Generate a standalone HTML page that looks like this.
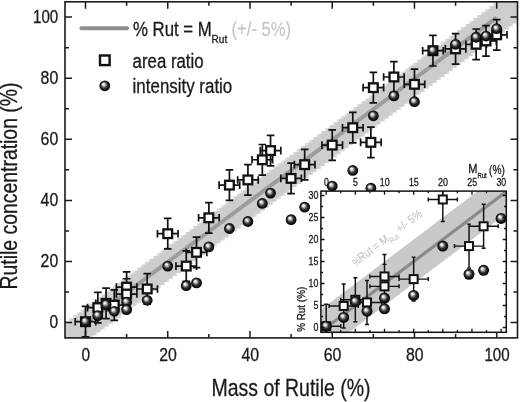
<!DOCTYPE html><html><head><meta charset="utf-8"><title>Rutile plot</title><style>html,body{margin:0;padding:0;background:#fff;}svg{display:block;}text{font-family:"Liberation Sans",Arial,sans-serif;fill:#1a1a1a;stroke:#1a1a1a;stroke-width:0.3px;}</style></head><body>
<svg width="520" height="402" viewBox="0 0 520 402">
<defs><radialGradient id="sph" cx="0.5" cy="0.5" r="0.5" fx="0.36" fy="0.33"><stop offset="0" stop-color="#ffffff"/><stop offset="0.2" stop-color="#e2e2e2"/><stop offset="0.4" stop-color="#8a8a8a"/><stop offset="0.58" stop-color="#383838"/><stop offset="0.8" stop-color="#131313"/><stop offset="1" stop-color="#000"/></radialGradient><clipPath id="mclip"><rect x="65" y="1.8" width="452.5" height="336.1"/></clipPath><clipPath id="iclip"><rect x="320.9" y="191.1" width="185.4" height="141.2"/></clipPath></defs>
<rect width="520" height="402" fill="#fff"/>
<g clip-path="url(#mclip)">
<polygon fill="#dcdcdc" points="64.94,321.31 68.94,321.31 68.94,318.34 72.94,318.34 72.94,315.36 76.94,315.36 76.94,312.39 80.94,312.39 80.94,309.42 84.94,309.42 84.94,306.45 88.94,306.45 88.94,303.48 92.94,303.48 92.94,300.51 96.94,300.51 96.94,297.53 100.94,297.53 100.94,294.56 104.94,294.56 104.94,291.59 108.94,291.59 108.94,288.62 112.94,288.62 112.94,285.65 116.94,285.65 116.94,282.68 120.94,282.68 120.94,279.7 124.94,279.7 124.94,276.73 128.94,276.73 128.94,273.76 132.94,273.76 132.94,270.79 136.94,270.79 136.94,267.82 140.94,267.82 140.94,264.84 144.94,264.84 144.94,261.87 148.94,261.87 148.94,258.9 152.94,258.9 152.94,255.93 156.94,255.93 156.94,252.96 160.94,252.96 160.94,249.99 164.94,249.99 164.94,247.01 168.94,247.01 168.94,244.04 172.94,244.04 172.94,241.07 176.94,241.07 176.94,238.1 180.94,238.1 180.94,235.13 184.94,235.13 184.94,232.15 188.94,232.15 188.94,229.18 192.94,229.18 192.94,226.21 196.94,226.21 196.94,223.24 200.94,223.24 200.94,220.27 204.94,220.27 204.94,217.3 208.94,217.3 208.94,214.32 212.94,214.32 212.94,211.35 216.94,211.35 216.94,208.38 220.94,208.38 220.94,205.41 224.94,205.41 224.94,202.44 228.94,202.44 228.94,199.47 232.94,199.47 232.94,196.49 236.94,196.49 236.94,193.52 240.94,193.52 240.94,190.55 244.94,190.55 244.94,187.58 248.94,187.58 248.94,184.61 252.94,184.61 252.94,181.63 256.94,181.63 256.94,178.66 260.94,178.66 260.94,175.69 264.94,175.69 264.94,172.72 268.94,172.72 268.94,169.75 272.94,169.75 272.94,166.78 276.94,166.78 276.94,163.8 280.94,163.8 280.94,160.83 284.94,160.83 284.94,157.86 288.94,157.86 288.94,154.89 292.94,154.89 292.94,151.92 296.94,151.92 296.94,148.94 300.94,148.94 300.94,145.97 304.94,145.97 304.94,143 308.94,143 308.94,140.03 312.94,140.03 312.94,137.06 316.94,137.06 316.94,134.09 320.94,134.09 320.94,131.11 324.94,131.11 324.94,128.14 328.94,128.14 328.94,125.17 332.94,125.17 332.94,122.2 336.94,122.2 336.94,119.23 340.94,119.23 340.94,116.25 344.94,116.25 344.94,113.28 348.94,113.28 348.94,110.31 352.94,110.31 352.94,107.34 356.94,107.34 356.94,104.37 360.94,104.37 360.94,101.4 364.94,101.4 364.94,98.42 368.94,98.42 368.94,95.45 372.94,95.45 372.94,92.48 376.94,92.48 376.94,89.51 380.94,89.51 380.94,86.54 384.94,86.54 384.94,83.57 388.94,83.57 388.94,80.59 392.94,80.59 392.94,77.62 396.94,77.62 396.94,74.65 400.94,74.65 400.94,71.68 404.94,71.68 404.94,68.71 408.94,68.71 408.94,65.73 412.94,65.73 412.94,62.76 416.94,62.76 416.94,59.79 420.94,59.79 420.94,56.82 424.94,56.82 424.94,53.85 428.94,53.85 428.94,50.88 432.94,50.88 432.94,47.9 436.94,47.9 436.94,44.93 440.94,44.93 440.94,41.96 444.94,41.96 444.94,38.99 448.94,38.99 448.94,36.02 452.94,36.02 452.94,33.04 456.94,33.04 456.94,30.07 460.94,30.07 460.94,27.1 464.94,27.1 464.94,24.13 468.94,24.13 468.94,21.16 472.94,21.16 472.94,18.19 476.94,18.19 476.94,15.21 480.94,15.21 480.94,12.24 484.94,12.24 484.94,9.27 488.94,9.27 488.94,6.3 492.94,6.3 492.94,3.33 496.94,3.33 496.94,0.36 500.94,0.36 500.94,-2.62 504.94,-2.62 504.94,-5.59 508.94,-5.59 508.94,-8.56 512.94,-8.56 512.94,-11.53 516.94,-11.53 516.94,-11.77 517.26,-11.77 517.26,20.55 516.94,20.55 516.94,23.52 512.94,23.52 512.94,26.49 508.94,26.49 508.94,29.46 504.94,29.46 504.94,32.43 500.94,32.43 500.94,35.4 496.94,35.4 496.94,38.38 492.94,38.38 492.94,41.35 488.94,41.35 488.94,44.32 484.94,44.32 484.94,47.29 480.94,47.29 480.94,50.26 476.94,50.26 476.94,53.24 472.94,53.24 472.94,56.21 468.94,56.21 468.94,59.18 464.94,59.18 464.94,62.15 460.94,62.15 460.94,65.12 456.94,65.12 456.94,68.09 452.94,68.09 452.94,71.07 448.94,71.07 448.94,74.04 444.94,74.04 444.94,77.01 440.94,77.01 440.94,79.98 436.94,79.98 436.94,82.95 432.94,82.95 432.94,85.92 428.94,85.92 428.94,88.9 424.94,88.9 424.94,91.87 420.94,91.87 420.94,94.84 416.94,94.84 416.94,97.81 412.94,97.81 412.94,100.78 408.94,100.78 408.94,103.76 404.94,103.76 404.94,106.73 400.94,106.73 400.94,109.7 396.94,109.7 396.94,112.67 392.94,112.67 392.94,115.64 388.94,115.64 388.94,118.61 384.94,118.61 384.94,121.59 380.94,121.59 380.94,124.56 376.94,124.56 376.94,127.53 372.94,127.53 372.94,130.5 368.94,130.5 368.94,133.47 364.94,133.47 364.94,136.45 360.94,136.45 360.94,139.42 356.94,139.42 356.94,142.39 352.94,142.39 352.94,145.36 348.94,145.36 348.94,148.33 344.94,148.33 344.94,151.3 340.94,151.3 340.94,154.28 336.94,154.28 336.94,157.25 332.94,157.25 332.94,160.22 328.94,160.22 328.94,163.19 324.94,163.19 324.94,166.16 320.94,166.16 320.94,169.13 316.94,169.13 316.94,172.11 312.94,172.11 312.94,175.08 308.94,175.08 308.94,178.05 304.94,178.05 304.94,181.02 300.94,181.02 300.94,183.99 296.94,183.99 296.94,186.97 292.94,186.97 292.94,189.94 288.94,189.94 288.94,192.91 284.94,192.91 284.94,195.88 280.94,195.88 280.94,198.85 276.94,198.85 276.94,201.82 272.94,201.82 272.94,204.8 268.94,204.8 268.94,207.77 264.94,207.77 264.94,210.74 260.94,210.74 260.94,213.71 256.94,213.71 256.94,216.68 252.94,216.68 252.94,219.66 248.94,219.66 248.94,222.63 244.94,222.63 244.94,225.6 240.94,225.6 240.94,228.57 236.94,228.57 236.94,231.54 232.94,231.54 232.94,234.51 228.94,234.51 228.94,237.49 224.94,237.49 224.94,240.46 220.94,240.46 220.94,243.43 216.94,243.43 216.94,246.4 212.94,246.4 212.94,249.37 208.94,249.37 208.94,252.35 204.94,252.35 204.94,255.32 200.94,255.32 200.94,258.29 196.94,258.29 196.94,261.26 192.94,261.26 192.94,264.23 188.94,264.23 188.94,267.2 184.94,267.2 184.94,270.18 180.94,270.18 180.94,273.15 176.94,273.15 176.94,276.12 172.94,276.12 172.94,279.09 168.94,279.09 168.94,282.06 164.94,282.06 164.94,285.03 160.94,285.03 160.94,288.01 156.94,288.01 156.94,290.98 152.94,290.98 152.94,293.95 148.94,293.95 148.94,296.92 144.94,296.92 144.94,299.89 140.94,299.89 140.94,302.87 136.94,302.87 136.94,305.84 132.94,305.84 132.94,308.81 128.94,308.81 128.94,311.78 124.94,311.78 124.94,314.75 120.94,314.75 120.94,317.72 116.94,317.72 116.94,320.7 112.94,320.7 112.94,323.67 108.94,323.67 108.94,326.64 104.94,326.64 104.94,329.61 100.94,329.61 100.94,332.58 96.94,332.58 96.94,335.56 92.94,335.56 92.94,338.53 88.94,338.53 88.94,341.5 84.94,341.5 84.94,344.47 80.94,344.47 80.94,347.44 76.94,347.44 76.94,350.41 72.94,350.41 72.94,353.39 68.94,353.39 68.94,356.36 64.94,356.36"/>
<polygon fill="#cdcdcd" points="63.3,324.06 67.3,324.06 67.3,321.09 71.3,321.09 71.3,318.11 75.3,318.11 75.3,315.14 79.3,315.14 79.3,312.17 83.3,312.17 83.3,309.2 87.3,309.2 87.3,306.23 91.3,306.23 91.3,303.26 95.3,303.26 95.3,300.28 99.3,300.28 99.3,297.31 103.3,297.31 103.3,294.34 107.3,294.34 107.3,291.37 111.3,291.37 111.3,288.4 115.3,288.4 115.3,285.42 119.3,285.42 119.3,282.45 123.3,282.45 123.3,279.48 127.3,279.48 127.3,276.51 131.3,276.51 131.3,273.54 135.3,273.54 135.3,270.57 139.3,270.57 139.3,267.59 143.3,267.59 143.3,264.62 147.3,264.62 147.3,261.65 151.3,261.65 151.3,258.68 155.3,258.68 155.3,255.71 159.3,255.71 159.3,252.74 163.3,252.74 163.3,249.76 167.3,249.76 167.3,246.79 171.3,246.79 171.3,243.82 175.3,243.82 175.3,240.85 179.3,240.85 179.3,237.88 183.3,237.88 183.3,234.9 187.3,234.9 187.3,231.93 191.3,231.93 191.3,228.96 195.3,228.96 195.3,225.99 199.3,225.99 199.3,223.02 203.3,223.02 203.3,220.05 207.3,220.05 207.3,217.07 211.3,217.07 211.3,214.1 215.3,214.1 215.3,211.13 219.3,211.13 219.3,208.16 223.3,208.16 223.3,205.19 227.3,205.19 227.3,202.21 231.3,202.21 231.3,199.24 235.3,199.24 235.3,196.27 239.3,196.27 239.3,193.3 243.3,193.3 243.3,190.33 247.3,190.33 247.3,187.36 251.3,187.36 251.3,184.38 255.3,184.38 255.3,181.41 259.3,181.41 259.3,178.44 263.3,178.44 263.3,175.47 267.3,175.47 267.3,172.5 271.3,172.5 271.3,169.52 275.3,169.52 275.3,166.55 279.3,166.55 279.3,163.58 283.3,163.58 283.3,160.61 287.3,160.61 287.3,157.64 291.3,157.64 291.3,154.67 295.3,154.67 295.3,151.69 299.3,151.69 299.3,148.72 303.3,148.72 303.3,145.75 307.3,145.75 307.3,142.78 311.3,142.78 311.3,139.81 315.3,139.81 315.3,136.84 319.3,136.84 319.3,133.86 323.3,133.86 323.3,130.89 327.3,130.89 327.3,127.92 331.3,127.92 331.3,124.95 335.3,124.95 335.3,121.98 339.3,121.98 339.3,119 343.3,119 343.3,116.03 347.3,116.03 347.3,113.06 351.3,113.06 351.3,110.09 355.3,110.09 355.3,107.12 359.3,107.12 359.3,104.15 363.3,104.15 363.3,101.17 367.3,101.17 367.3,98.2 371.3,98.2 371.3,95.23 375.3,95.23 375.3,92.26 379.3,92.26 379.3,89.29 383.3,89.29 383.3,86.31 387.3,86.31 387.3,83.34 391.3,83.34 391.3,80.37 395.3,80.37 395.3,77.4 399.3,77.4 399.3,74.43 403.3,74.43 403.3,71.46 407.3,71.46 407.3,68.48 411.3,68.48 411.3,65.51 415.3,65.51 415.3,62.54 419.3,62.54 419.3,59.57 423.3,59.57 423.3,56.6 427.3,56.6 427.3,53.63 431.3,53.63 431.3,50.65 435.3,50.65 435.3,47.68 439.3,47.68 439.3,44.71 443.3,44.71 443.3,41.74 447.3,41.74 447.3,38.77 451.3,38.77 451.3,35.79 455.3,35.79 455.3,32.82 459.3,32.82 459.3,29.85 463.3,29.85 463.3,26.88 467.3,26.88 467.3,23.91 471.3,23.91 471.3,20.94 475.3,20.94 475.3,17.96 479.3,17.96 479.3,14.99 483.3,14.99 483.3,12.02 487.3,12.02 487.3,9.05 491.3,9.05 491.3,6.08 495.3,6.08 495.3,3.1 499.3,3.1 499.3,0.13 503.3,0.13 503.3,-2.84 507.3,-2.84 507.3,-5.81 511.3,-5.81 511.3,-8.78 515.3,-8.78 515.3,-10.24 517.26,-10.24 517.26,20.24 515.3,20.24 515.3,23.21 511.3,23.21 511.3,26.18 507.3,26.18 507.3,29.16 503.3,29.16 503.3,32.13 499.3,32.13 499.3,35.1 495.3,35.1 495.3,38.07 491.3,38.07 491.3,41.04 487.3,41.04 487.3,44.01 483.3,44.01 483.3,46.99 479.3,46.99 479.3,49.96 475.3,49.96 475.3,52.93 471.3,52.93 471.3,55.9 467.3,55.9 467.3,58.87 463.3,58.87 463.3,61.85 459.3,61.85 459.3,64.82 455.3,64.82 455.3,67.79 451.3,67.79 451.3,70.76 447.3,70.76 447.3,73.73 443.3,73.73 443.3,76.7 439.3,76.7 439.3,79.68 435.3,79.68 435.3,82.65 431.3,82.65 431.3,85.62 427.3,85.62 427.3,88.59 423.3,88.59 423.3,91.56 419.3,91.56 419.3,94.53 415.3,94.53 415.3,97.51 411.3,97.51 411.3,100.48 407.3,100.48 407.3,103.45 403.3,103.45 403.3,106.42 399.3,106.42 399.3,109.39 395.3,109.39 395.3,112.37 391.3,112.37 391.3,115.34 387.3,115.34 387.3,118.31 383.3,118.31 383.3,121.28 379.3,121.28 379.3,124.25 375.3,124.25 375.3,127.22 371.3,127.22 371.3,130.2 367.3,130.2 367.3,133.17 363.3,133.17 363.3,136.14 359.3,136.14 359.3,139.11 355.3,139.11 355.3,142.08 351.3,142.08 351.3,145.06 347.3,145.06 347.3,148.03 343.3,148.03 343.3,151 339.3,151 339.3,153.97 335.3,153.97 335.3,156.94 331.3,156.94 331.3,159.91 327.3,159.91 327.3,162.89 323.3,162.89 323.3,165.86 319.3,165.86 319.3,168.83 315.3,168.83 315.3,171.8 311.3,171.8 311.3,174.77 307.3,174.77 307.3,177.74 303.3,177.74 303.3,180.72 299.3,180.72 299.3,183.69 295.3,183.69 295.3,186.66 291.3,186.66 291.3,189.63 287.3,189.63 287.3,192.6 283.3,192.6 283.3,195.58 279.3,195.58 279.3,198.55 275.3,198.55 275.3,201.52 271.3,201.52 271.3,204.49 267.3,204.49 267.3,207.46 263.3,207.46 263.3,210.43 259.3,210.43 259.3,213.41 255.3,213.41 255.3,216.38 251.3,216.38 251.3,219.35 247.3,219.35 247.3,222.32 243.3,222.32 243.3,225.29 239.3,225.29 239.3,228.27 235.3,228.27 235.3,231.24 231.3,231.24 231.3,234.21 227.3,234.21 227.3,237.18 223.3,237.18 223.3,240.15 219.3,240.15 219.3,243.12 215.3,243.12 215.3,246.1 211.3,246.1 211.3,249.07 207.3,249.07 207.3,252.04 203.3,252.04 203.3,255.01 199.3,255.01 199.3,257.98 195.3,257.98 195.3,260.95 191.3,260.95 191.3,263.93 187.3,263.93 187.3,266.9 183.3,266.9 183.3,269.87 179.3,269.87 179.3,272.84 175.3,272.84 175.3,275.81 171.3,275.81 171.3,278.79 167.3,278.79 167.3,281.76 163.3,281.76 163.3,284.73 159.3,284.73 159.3,287.7 155.3,287.7 155.3,290.67 151.3,290.67 151.3,293.64 147.3,293.64 147.3,296.62 143.3,296.62 143.3,299.59 139.3,299.59 139.3,302.56 135.3,302.56 135.3,305.53 131.3,305.53 131.3,308.5 127.3,308.5 127.3,311.48 123.3,311.48 123.3,314.45 119.3,314.45 119.3,317.42 115.3,317.42 115.3,320.39 111.3,320.39 111.3,323.36 107.3,323.36 107.3,326.33 103.3,326.33 103.3,329.31 99.3,329.31 99.3,332.28 95.3,332.28 95.3,335.25 91.3,335.25 91.3,338.22 87.3,338.22 87.3,341.19 83.3,341.19 83.3,344.17 79.3,344.17 79.3,347.14 75.3,347.14 75.3,350.11 71.3,350.11 71.3,353.08 67.3,353.08 67.3,356.05 63.3,356.05"/>
<line x1="85.5" y1="323.1" x2="496.7" y2="17.6" stroke="#9c9c9c" stroke-width="4"/>
</g>
<path fill="none" stroke="#111" stroke-width="1.7" d="M75.22 321.68H95.78M85.5 306.41V336.96M75.22 317.88V325.48M95.78 317.88V325.48M81.7 306.41H89.3M81.7 336.96H89.3M87.56 307.63H108.12M97.84 292.36V322.91M87.56 303.83V311.43M108.12 303.83V311.43M94.04 292.36H101.64M94.04 322.91H101.64M95.78 303.35H116.34M106.06 288.08V318.63M95.78 299.55V307.15M116.34 299.55V307.15M102.26 288.08H109.86M102.26 318.63H109.86M104 305.19H124.56M114.28 289.91V320.46M104 301.39V308.99M124.56 301.39V308.99M110.48 289.91H118.08M110.48 320.46H118.08M116.34 287.16H136.9M126.62 271.89V302.44M116.34 283.36V290.96M136.9 283.36V290.96M122.82 271.89H130.42M122.82 302.44H130.42M116.34 294.04H136.9M126.62 278.76V309.31M116.34 290.24V297.84M136.9 290.24V297.84M122.82 278.76H130.42M122.82 309.31H130.42M136.9 289H157.46M147.18 273.72V304.27M136.9 285.19V292.8M157.46 285.19V292.8M143.38 273.72H150.98M143.38 304.27H150.98M157.46 233.7H178.02M167.74 218.42V248.97M157.46 229.9V237.5M178.02 229.9V237.5M163.94 218.42H171.54M163.94 248.97H171.54M175.96 266.08H196.52M186.24 250.81V281.36M175.96 262.28V269.88M196.52 262.28V269.88M182.44 250.81H190.04M182.44 281.36H190.04M186.24 252.34H206.8M196.52 237.06V267.61M186.24 248.54V256.14M206.8 248.54V256.14M192.72 237.06H200.32M192.72 267.61H200.32M198.58 217.81H219.14M208.86 202.54V233.09M198.58 214.01V221.61M219.14 214.01V221.61M205.06 202.54H212.66M205.06 233.09H212.66M219.14 185.13H239.7M229.42 169.85V200.4M219.14 181.33V188.93M239.7 181.33V188.93M225.62 169.85H233.22M225.62 200.4H233.22M237.64 179.93H258.2M247.92 164.66V195.21M237.64 176.13V183.73M258.2 176.13V183.73M244.12 164.66H251.72M244.12 195.21H251.72M252.04 159.77H272.6M262.32 144.49V175.04M252.04 155.97V163.57M272.6 155.97V163.57M258.52 144.49H266.12M258.52 175.04H266.12M260.26 150.6H280.82M270.54 135.33V165.88M260.26 146.8V154.4M280.82 146.8V154.4M266.74 135.33H274.34M266.74 165.88H274.34M280.82 178.4H301.38M291.1 163.13V193.68M280.82 174.6V182.2M301.38 174.6V182.2M287.3 163.13H294.9M287.3 193.68H294.9M294.39 164.66H314.95M304.67 149.38V179.93M294.39 160.86V168.46M314.95 160.86V168.46M300.87 149.38H308.47M300.87 179.93H308.47M321.94 145.1H342.5M332.22 129.83V160.38M321.94 141.3V148.9M342.5 141.3V148.9M328.42 129.83H336.02M328.42 160.38H336.02M342.5 127.69H363.06M352.78 112.42V142.97M342.5 123.89V131.49M363.06 123.89V131.49M348.98 112.42H356.58M348.98 142.97H356.58M360.59 142.36H381.15M370.87 127.08V157.63M360.59 138.56V146.16M381.15 138.56V146.16M367.07 127.08H374.67M367.07 157.63H374.67M363.06 87.67H383.62M373.34 72.4V102.95M363.06 83.87V91.47M383.62 83.87V91.47M369.54 72.4H377.14M369.54 102.95H377.14M383.62 76.98H404.18M393.9 61.7V92.25M383.62 73.18V80.78M404.18 73.18V80.78M390.1 61.7H397.7M390.1 92.25H397.7M404.18 84.31H424.74M414.46 69.03V99.59M404.18 80.51V88.11M424.74 80.51V88.11M410.66 69.03H418.26M410.66 99.59H418.26M422.68 50.7H443.24M432.96 35.43V65.98M422.68 46.9V54.5M443.24 46.9V54.5M429.16 35.43H436.76M429.16 65.98H436.76M445.3 48.87H465.86M455.58 33.6V64.15M445.3 45.07V52.67M465.86 45.07V52.67M451.78 33.6H459.38M451.78 64.15H459.38M465.86 44.29H486.42M476.14 29.01V59.56M465.86 40.49V48.09M486.42 40.49V48.09M472.34 29.01H479.94M472.34 59.56H479.94M475.73 40.93H496.29M486.01 25.65V56.2M475.73 37.13V44.73M496.29 37.13V44.73M482.21 25.65H489.81M482.21 56.2H489.81M486.42 34.82H506.98M496.7 19.54V50.09M486.42 31.02V38.62M506.98 31.02V38.62M492.9 19.54H500.5M492.9 50.09H500.5"/>
<g fill="#fff" stroke="#111" stroke-width="2.3"><rect x="81.15" y="317.33" width="8.7" height="8.7"/><rect x="93.49" y="303.28" width="8.7" height="8.7"/><rect x="101.71" y="299" width="8.7" height="8.7"/><rect x="109.93" y="300.84" width="8.7" height="8.7"/><rect x="122.27" y="282.81" width="8.7" height="8.7"/><rect x="122.27" y="289.69" width="8.7" height="8.7"/><rect x="142.83" y="284.64" width="8.7" height="8.7"/><rect x="163.39" y="229.35" width="8.7" height="8.7"/><rect x="181.89" y="261.73" width="8.7" height="8.7"/><rect x="192.17" y="247.99" width="8.7" height="8.7"/><rect x="204.51" y="213.46" width="8.7" height="8.7"/><rect x="225.07" y="180.78" width="8.7" height="8.7"/><rect x="243.57" y="175.58" width="8.7" height="8.7"/><rect x="257.97" y="155.42" width="8.7" height="8.7"/><rect x="266.19" y="146.25" width="8.7" height="8.7"/><rect x="286.75" y="174.05" width="8.7" height="8.7"/><rect x="300.32" y="160.31" width="8.7" height="8.7"/><rect x="327.87" y="140.75" width="8.7" height="8.7"/><rect x="348.43" y="123.34" width="8.7" height="8.7"/><rect x="366.52" y="138.01" width="8.7" height="8.7"/><rect x="368.99" y="83.32" width="8.7" height="8.7"/><rect x="389.55" y="72.63" width="8.7" height="8.7"/><rect x="410.11" y="79.96" width="8.7" height="8.7"/><rect x="428.61" y="46.35" width="8.7" height="8.7"/><rect x="451.23" y="44.52" width="8.7" height="8.7"/><rect x="471.79" y="39.94" width="8.7" height="8.7"/><rect x="481.66" y="36.58" width="8.7" height="8.7"/><rect x="492.35" y="30.47" width="8.7" height="8.7"/></g>
<g fill="url(#sph)"><circle cx="85.5" cy="321.68" r="5.4"/><circle cx="97.84" cy="315.57" r="5.4"/><circle cx="106.06" cy="304.58" r="5.4"/><circle cx="114.28" cy="311.3" r="5.4"/><circle cx="126.62" cy="302.13" r="5.4"/><circle cx="126.62" cy="309.62" r="5.4"/><circle cx="147.18" cy="300.3" r="5.4"/><circle cx="167.74" cy="266.08" r="5.4"/><circle cx="186.24" cy="285.63" r="5.4"/><circle cx="196.52" cy="282.88" r="5.4"/><circle cx="208.86" cy="246.84" r="5.4"/><circle cx="229.42" cy="228.51" r="5.4"/><circle cx="247.92" cy="221.48" r="5.4"/><circle cx="262.32" cy="203.46" r="5.4"/><circle cx="270.54" cy="193.07" r="5.4"/><circle cx="291.1" cy="219.65" r="5.4"/><circle cx="304.67" cy="207.12" r="5.4"/><circle cx="332.22" cy="186.04" r="5.4"/><circle cx="352.78" cy="170.46" r="5.4"/><circle cx="370.87" cy="188.18" r="5.4"/><circle cx="373.34" cy="115.78" r="5.4"/><circle cx="393.9" cy="95.92" r="5.4"/><circle cx="414.46" cy="101.72" r="5.4"/><circle cx="432.96" cy="50.7" r="5.4"/><circle cx="455.58" cy="44.29" r="5.4"/><circle cx="476.14" cy="37.26" r="5.4"/><circle cx="486.01" cy="36.04" r="5.4"/><circle cx="496.7" cy="28.71" r="5.4"/></g>
<path fill="none" stroke="#1a1a1a" stroke-width="1.5" d="M85.5 337.9V330.9M85.5 1.8V8.8M65 322.6H72M517.5 322.6H510.5M126.62 337.9V333.9M126.62 1.8V5.8M65 292.05H69M517.5 292.05H513.5M167.74 337.9V330.9M167.74 1.8V8.8M65 261.5H72M517.5 261.5H510.5M208.86 337.9V333.9M208.86 1.8V5.8M65 230.95H69M517.5 230.95H513.5M249.98 337.9V330.9M249.98 1.8V8.8M65 200.4H72M517.5 200.4H510.5M291.1 337.9V333.9M291.1 1.8V5.8M65 169.85H69M517.5 169.85H513.5M332.22 337.9V330.9M332.22 1.8V8.8M65 139.3H72M517.5 139.3H510.5M373.34 337.9V333.9M373.34 1.8V5.8M65 108.75H69M517.5 108.75H513.5M414.46 337.9V330.9M414.46 1.8V8.8M65 78.2H72M517.5 78.2H510.5M455.58 337.9V333.9M455.58 1.8V5.8M65 47.65H69M517.5 47.65H513.5M496.7 337.9V330.9M496.7 1.8V8.8M65 17.1H72M517.5 17.1H510.5"/>
<rect x="65" y="1.8" width="452.5" height="336.1" fill="none" stroke="#1a1a1a" stroke-width="1.6"/>
<text x="85.8" y="360.5" font-size="18.8" text-anchor="middle" textLength="8.6" lengthAdjust="spacingAndGlyphs">0</text>
<text x="58.2" y="328.1" font-size="18.8" text-anchor="end" textLength="8.6" lengthAdjust="spacingAndGlyphs">0</text>
<text x="168.04" y="360.5" font-size="18.8" text-anchor="middle" textLength="17.6" lengthAdjust="spacingAndGlyphs">20</text>
<text x="58.2" y="267" font-size="18.8" text-anchor="end" textLength="17.6" lengthAdjust="spacingAndGlyphs">20</text>
<text x="250.28" y="360.5" font-size="18.8" text-anchor="middle" textLength="17.6" lengthAdjust="spacingAndGlyphs">40</text>
<text x="58.2" y="205.9" font-size="18.8" text-anchor="end" textLength="17.6" lengthAdjust="spacingAndGlyphs">40</text>
<text x="332.52" y="360.5" font-size="18.8" text-anchor="middle" textLength="17.6" lengthAdjust="spacingAndGlyphs">60</text>
<text x="58.2" y="144.8" font-size="18.8" text-anchor="end" textLength="17.6" lengthAdjust="spacingAndGlyphs">60</text>
<text x="414.76" y="360.5" font-size="18.8" text-anchor="middle" textLength="17.6" lengthAdjust="spacingAndGlyphs">80</text>
<text x="58.2" y="83.7" font-size="18.8" text-anchor="end" textLength="17.6" lengthAdjust="spacingAndGlyphs">80</text>
<text x="497" y="360.5" font-size="18.8" text-anchor="middle" textLength="25.2" lengthAdjust="spacingAndGlyphs">100</text>
<text x="58.2" y="22.6" font-size="18.8" text-anchor="end" textLength="25.2" lengthAdjust="spacingAndGlyphs">100</text>
<text x="211.5" y="396.3" font-size="23.8" textLength="159" lengthAdjust="spacingAndGlyphs">Mass of Rutile (%)</text>
<text transform="translate(17.1,289.5) rotate(-90)" font-size="23.8" textLength="207" lengthAdjust="spacingAndGlyphs">Rutile concentration (%)</text>
<line x1="81.5" y1="28.2" x2="127" y2="28.2" stroke="#8e8e8e" stroke-width="4" stroke-linecap="round"/>
<text x="133" y="35.6" font-size="19.3" textLength="78.8" lengthAdjust="spacingAndGlyphs">% Rut = M</text><text x="211.6" y="42.9" font-size="10.2" textLength="15.6" lengthAdjust="spacingAndGlyphs">Rut</text><text x="231.6" y="35.6" font-size="19.3" style="fill:#c4c4c4;stroke:#c4c4c4;stroke-width:0.1px" textLength="59.5" lengthAdjust="spacingAndGlyphs">(+/- 5%)</text>
<rect x="100" y="55.5" width="9.6" height="9.6" fill="#fff" stroke="#111" stroke-width="2.4"/>
<text x="132.6" y="67.6" font-size="19.3" textLength="71" lengthAdjust="spacingAndGlyphs">area ratio</text>
<circle cx="104.8" cy="85.8" r="5.4" fill="url(#sph)"/>
<text x="132.6" y="92.6" font-size="19.3" textLength="99.7" lengthAdjust="spacingAndGlyphs">intensity ratio</text>
<rect x="320.9" y="191.1" width="185.4" height="141.2" fill="#fff"/>
<g clip-path="url(#iclip)">
<polygon fill="#c9c9c9" points="314.54,314.3 518.59,160.3 518.59,204.3 314.54,358.3 314.54,314.3"/>
<line x1="314.54" y1="336.3" x2="518.59" y2="182.3" stroke="#8a8a8a" stroke-width="3.2"/>
</g>
<text transform="translate(355.4,266.6) rotate(-37.04)" font-size="12" style="fill:#c6c6c6;stroke:#c6c6c6;stroke-width:0.15px" textLength="85" lengthAdjust="spacingAndGlyphs"><tspan font-size="10">%</tspan>Rut = M<tspan font-size="7.5" dy="3.5">Rut</tspan><tspan dy="-3.5"> +/- 5%</tspan></text>
<g clip-path="url(#iclip)">
<path fill="none" stroke="#111" stroke-width="1.45" d="M311.62 326.18H340.77M326.2 304.18V348.18M311.62 324.18V328.18M340.77 324.18V328.18M324.2 304.18H328.2M324.2 348.18H328.2M329.12 305.94H358.26M343.69 283.94V327.94M329.12 303.94V307.94M358.26 303.94V307.94M341.69 283.94H345.69M341.69 327.94H345.69M340.77 299.78H369.93M355.35 277.78V321.78M340.77 297.78V301.78M369.93 297.78V301.78M353.35 277.78H357.35M353.35 321.78H357.35M352.44 302.42H381.58M367.01 280.42V324.42M352.44 300.42V304.42M381.58 300.42V304.42M365.01 280.42H369.01M365.01 324.42H369.01M369.93 276.46H399.07M384.5 254.46V298.46M369.93 274.46V278.46M399.07 274.46V278.46M382.5 254.46H386.5M382.5 298.46H386.5M369.93 286.36H399.07M384.5 264.36V308.36M369.93 284.36V288.36M399.07 284.36V288.36M382.5 264.36H386.5M382.5 308.36H386.5M399.07 279.1H428.23M413.65 257.1V301.1M399.07 277.1V281.1M428.23 277.1V281.1M411.65 257.1H415.65M411.65 301.1H415.65M428.23 199.46H457.38M442.8 177.46V221.46M428.23 197.46V201.46M457.38 197.46V201.46M440.8 177.46H444.8M440.8 221.46H444.8M454.46 246.1H483.61M469.03 224.1V268.1M454.46 244.1V248.1M483.61 244.1V248.1M467.03 224.1H471.03M467.03 268.1H471.03M469.03 226.3H498.19M483.61 204.3V248.3M469.03 224.3V228.3M498.19 224.3V228.3M481.61 204.3H485.61M481.61 248.3H485.61"/>
<g fill="#fff" stroke="#111" stroke-width="2.0"><rect x="322.2" y="322.18" width="8" height="8"/><rect x="339.69" y="301.94" width="8" height="8"/><rect x="351.35" y="295.78" width="8" height="8"/><rect x="363.01" y="298.42" width="8" height="8"/><rect x="380.5" y="272.46" width="8" height="8"/><rect x="380.5" y="282.36" width="8" height="8"/><rect x="409.65" y="275.1" width="8" height="8"/><rect x="438.8" y="195.46" width="8" height="8"/><rect x="465.03" y="242.1" width="8" height="8"/><rect x="479.61" y="222.3" width="8" height="8"/></g>
<g fill="url(#sph)"><circle cx="326.2" cy="326.18" r="5.5"/><circle cx="343.69" cy="317.38" r="5.5"/><circle cx="355.35" cy="301.54" r="5.5"/><circle cx="367.01" cy="311.22" r="5.5"/><circle cx="384.5" cy="298.02" r="5.5"/><circle cx="384.5" cy="308.8" r="5.5"/><circle cx="413.65" cy="295.38" r="5.5"/><circle cx="442.8" cy="246.1" r="5.5"/><circle cx="469.03" cy="274.26" r="5.5"/><circle cx="483.61" cy="270.3" r="5.5"/><circle cx="501.1" cy="218.38" r="5.5"/></g>
</g>
<path fill="none" stroke="#111" stroke-width="1.3" d="M326.2 332.3V328.7M326.2 191.1V194.7M320.9 327.5H324.5M506.3 327.5H502.7M340.77 332.3V330.1M340.77 191.1V193.3M320.9 316.5H323.1M506.3 316.5H504.1M355.35 332.3V328.7M355.35 191.1V194.7M320.9 305.5H324.5M506.3 305.5H502.7M369.93 332.3V330.1M369.93 191.1V193.3M320.9 294.5H323.1M506.3 294.5H504.1M384.5 332.3V328.7M384.5 191.1V194.7M320.9 283.5H324.5M506.3 283.5H502.7M399.07 332.3V330.1M399.07 191.1V193.3M320.9 272.5H323.1M506.3 272.5H504.1M413.65 332.3V328.7M413.65 191.1V194.7M320.9 261.5H324.5M506.3 261.5H502.7M428.23 332.3V330.1M428.23 191.1V193.3M320.9 250.5H323.1M506.3 250.5H504.1M442.8 332.3V328.7M442.8 191.1V194.7M320.9 239.5H324.5M506.3 239.5H502.7M457.38 332.3V330.1M457.38 191.1V193.3M320.9 228.5H323.1M506.3 228.5H504.1M471.95 332.3V328.7M471.95 191.1V194.7M320.9 217.5H324.5M506.3 217.5H502.7M486.52 332.3V330.1M486.52 191.1V193.3M320.9 206.5H323.1M506.3 206.5H504.1M501.1 332.3V328.7M320.9 195.5H324.5M506.3 195.5H502.7"/>
<rect x="320.9" y="191.1" width="185.4" height="141.2" fill="none" stroke="#111" stroke-width="1.5"/>
<text x="326.4" y="186.2" font-size="10.3" text-anchor="middle" textLength="4.9" lengthAdjust="spacingAndGlyphs">0</text>
<text x="318.3" y="330.8" font-size="10.3" text-anchor="end" textLength="4.9" lengthAdjust="spacingAndGlyphs">0</text>
<text x="355.55" y="186.2" font-size="10.3" text-anchor="middle" textLength="4.9" lengthAdjust="spacingAndGlyphs">5</text>
<text x="318.3" y="308.8" font-size="10.3" text-anchor="end" textLength="4.9" lengthAdjust="spacingAndGlyphs">5</text>
<text x="384.7" y="186.2" font-size="10.3" text-anchor="middle" textLength="9.8" lengthAdjust="spacingAndGlyphs">10</text>
<text x="318.3" y="286.8" font-size="10.3" text-anchor="end" textLength="9.8" lengthAdjust="spacingAndGlyphs">10</text>
<text x="413.85" y="186.2" font-size="10.3" text-anchor="middle" textLength="9.8" lengthAdjust="spacingAndGlyphs">15</text>
<text x="318.3" y="264.8" font-size="10.3" text-anchor="end" textLength="9.8" lengthAdjust="spacingAndGlyphs">15</text>
<text x="443" y="186.2" font-size="10.3" text-anchor="middle" textLength="9.8" lengthAdjust="spacingAndGlyphs">20</text>
<text x="318.3" y="242.8" font-size="10.3" text-anchor="end" textLength="9.8" lengthAdjust="spacingAndGlyphs">20</text>
<text x="472.15" y="186.2" font-size="10.3" text-anchor="middle" textLength="9.8" lengthAdjust="spacingAndGlyphs">25</text>
<text x="318.3" y="220.8" font-size="10.3" text-anchor="end" textLength="9.8" lengthAdjust="spacingAndGlyphs">25</text>
<text x="501.3" y="186.2" font-size="10.3" text-anchor="middle" textLength="9.8" lengthAdjust="spacingAndGlyphs">30</text>
<text x="318.3" y="198.8" font-size="10.3" text-anchor="end" textLength="9.8" lengthAdjust="spacingAndGlyphs">30</text>
<text x="468.2" y="173.4" font-size="12.2" textLength="9.2" lengthAdjust="spacingAndGlyphs">M</text>
<text x="477.4" y="177.6" font-size="7.6" textLength="9.2" lengthAdjust="spacingAndGlyphs">Rut</text>
<text x="489.1" y="174" font-size="12.2" textLength="15.8" lengthAdjust="spacingAndGlyphs">(%)</text>
<text transform="translate(305.3,331.8) rotate(-90)" font-size="10.5" textLength="45" lengthAdjust="spacingAndGlyphs">% Rut (%)</text>
</svg></body></html>
